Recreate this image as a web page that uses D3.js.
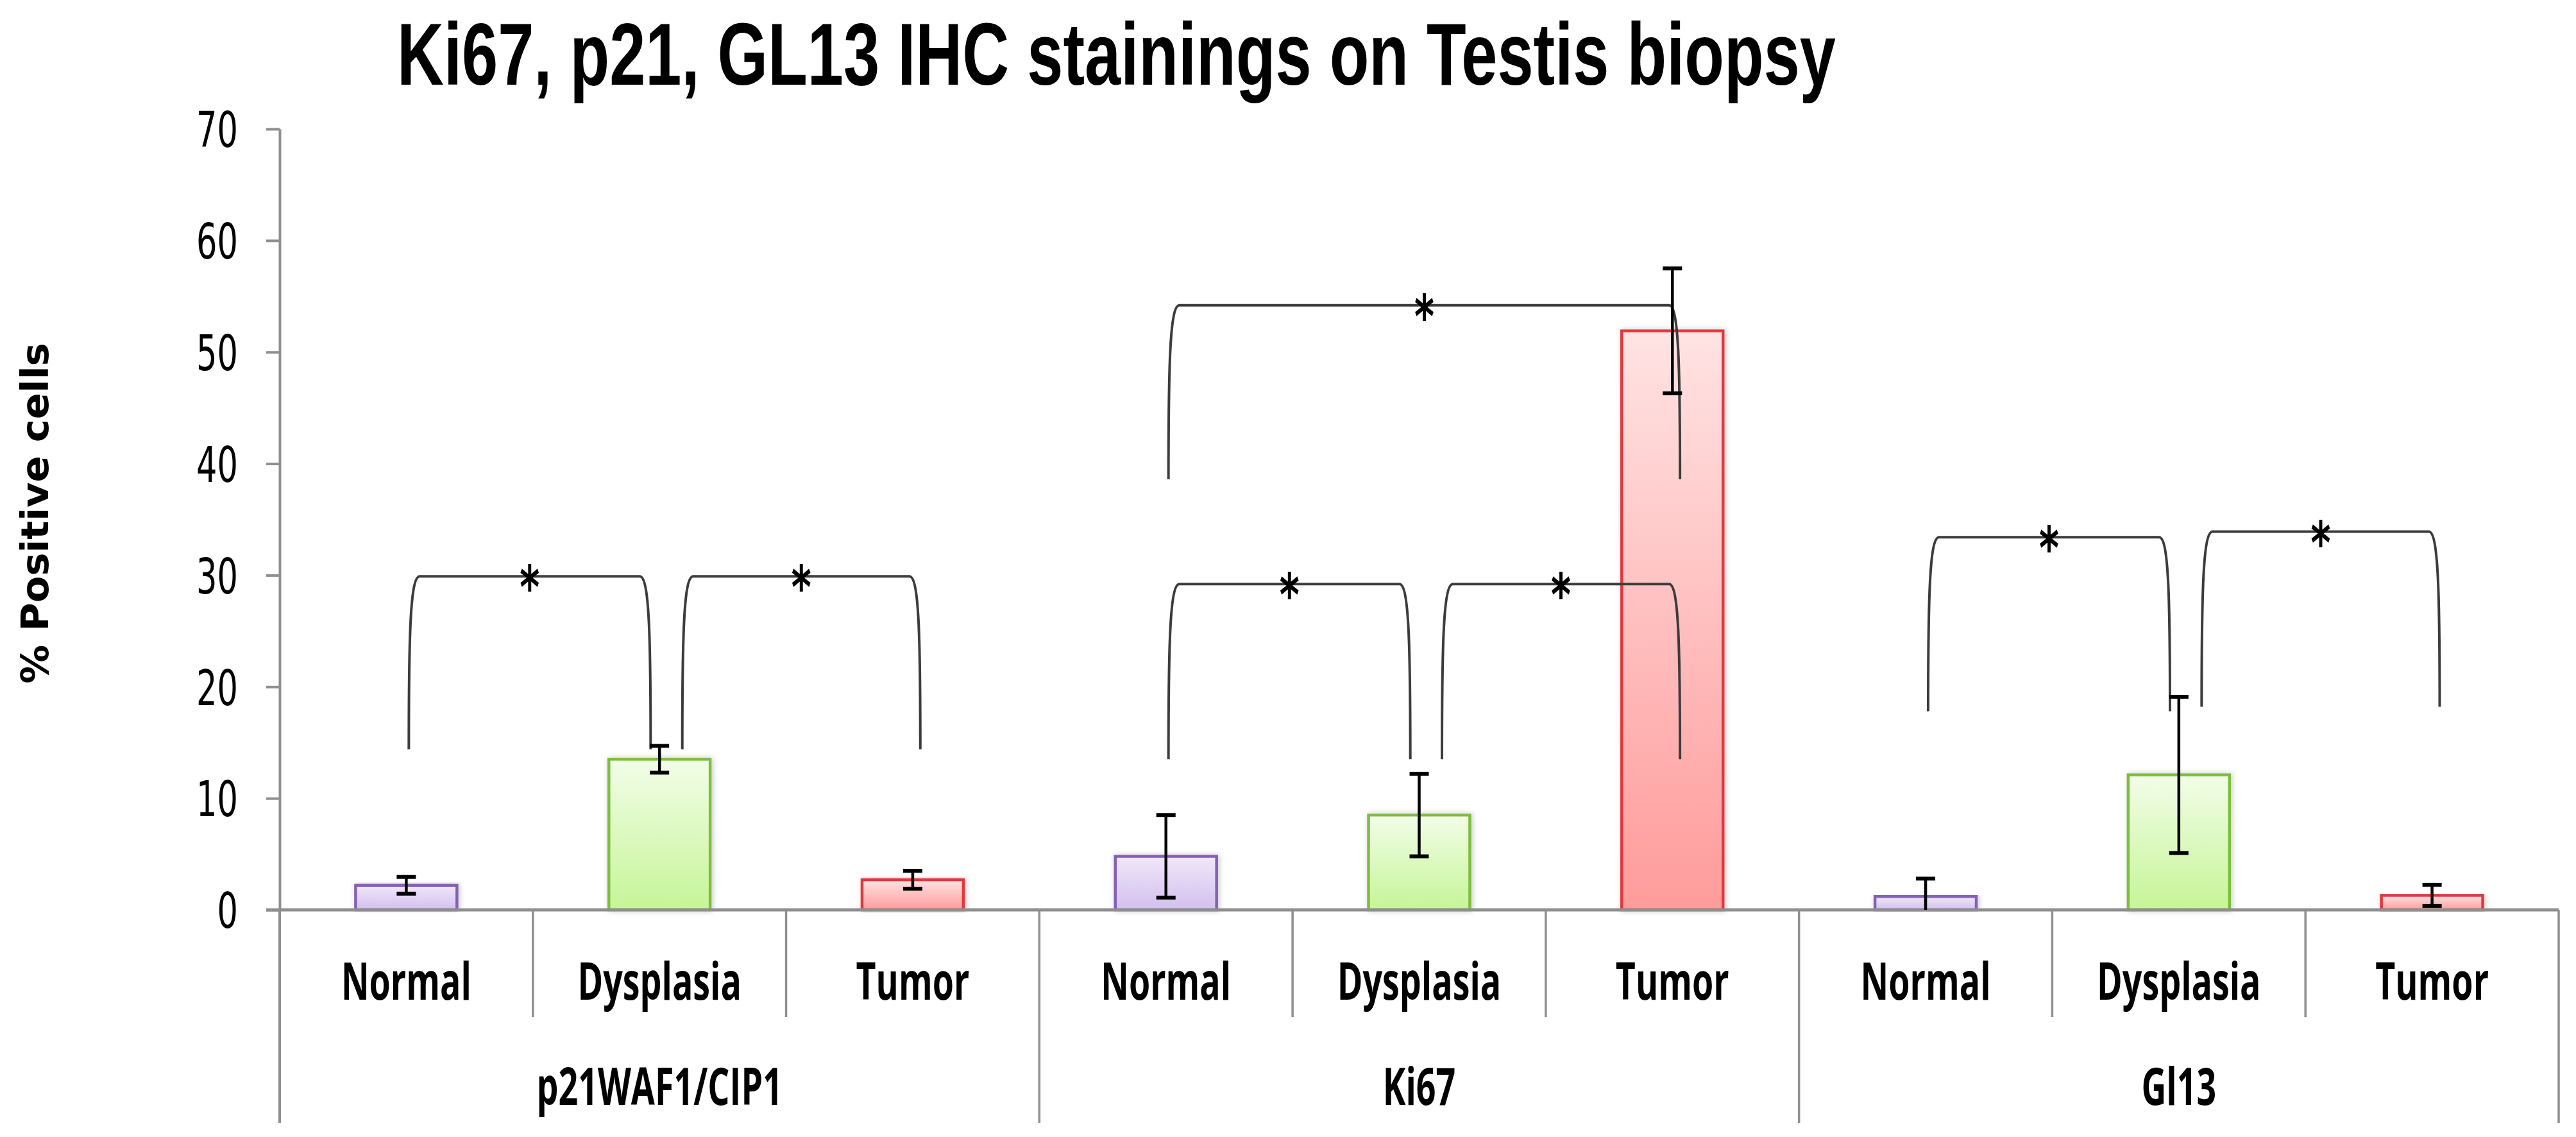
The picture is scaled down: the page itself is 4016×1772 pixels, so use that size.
<!DOCTYPE html>
<html>
<head>
<meta charset="utf-8">
<script src="https://cdn.jsdelivr.net/npm/d3@7"></script>
<style>
  body { margin: 0; background: #fff; }
</style>
</head>
<body>
<svg id="chart"></svg>
<script>
// data
const groups = ['p21WAF1/CIP1', 'Ki67', 'Gl13'];
const stages = ['Normal', 'Dysplasia', 'Tumor'];
const p21Mean = [2.2, 13.5, 2.7];
const p21Err = [0.75, 1.2, 0.8];
const ki67Mean = [4.8, 8.5, 51.9];
const ki67Err = [3.7, 3.7, 5.6];
const gl13Mean = [1.2, 12.1, 1.3];
const gl13Err = [1.6, 7.0, 0.95];
const yTicks = [0, 10, 20, 30, 40, 50, 60, 70];
// significance brackets: group, from, to, top value, end value
const brackets = [
	['p21WAF1/CIP1', 'Normal', 'Dysplasia', 29.9, 14.4],
	['p21WAF1/CIP1', 'Dysplasia', 'Tumor', 29.9, 14.4],
	['Ki67', 'Normal', 'Tumor', 54.2, 38.6],
	['Ki67', 'Normal', 'Dysplasia', 29.2, 13.5],
	['Ki67', 'Dysplasia', 'Tumor', 29.2, 13.5],
	['Gl13', 'Normal', 'Dysplasia', 33.4, 17.8],
	['Gl13', 'Dysplasia', 'Tumor', 33.9, 18.2]
];

const W = 4016, H = 1772;
const margin = { top: 201, left: 436, right: 27, bottom: 354 };

const svg = d3.select('#chart')
	.attr('width', W).attr('height', H)
	.attr('viewBox', `0 0 ${W} ${H}`);

// table built from the arrays
const meanByGroup = { 'p21WAF1/CIP1': p21Mean, 'Ki67': ki67Mean, 'Gl13': gl13Mean };
const errByGroup = { 'p21WAF1/CIP1': p21Err, 'Ki67': ki67Err, 'Gl13': gl13Err };
const rows = [];
groups.forEach(g => stages.forEach((s, i) => {
	rows.push({ group: g, stage: s, key: g + '|' + s, value: meanByGroup[g][i], err: errByGroup[g][i] });
}));

const x = d3.scaleBand().domain(rows.map(d => d.key)).range([margin.left, W - margin.right]);
const y = d3.scaleLinear().domain([0, 70]).range([H - margin.bottom, margin.top]);
const bw = x.bandwidth();
const barW = bw * 0.4;
const cx = k => x(k) + bw / 2;

// defs: gradients and shadow
const defs = svg.append('defs');
const palette = {
	Normal: { top: '#f0e8f9', bottom: '#d3bfee', stroke: '#8460b6' },
	Dysplasia: { top: '#f2fde8', bottom: '#c6f597', stroke: '#7bbe3c' },
	Tumor: { top: '#ffe3e3', bottom: '#ff9b9b', stroke: '#e0383d' }
};
stages.forEach(s => {
	const lg = defs.append('linearGradient').attr('id', 'grad-' + s)
		.attr('x1', 0).attr('y1', 0).attr('x2', 0).attr('y2', 1);
	lg.append('stop').attr('offset', '0%').attr('stop-color', palette[s].top);
	lg.append('stop').attr('offset', '100%').attr('stop-color', palette[s].bottom);
});
defs.append('filter').attr('id', 'shadow').attr('x', '-20%').attr('y', '-10%').attr('width', '140%').attr('height', '120%')
	.append('feDropShadow').attr('dx', 2).attr('dy', 0).attr('stdDeviation', 4)
	.attr('flood-color', '#000').attr('flood-opacity', 0.22);

// title
svg.append('text')
	.attr('x', 619).attr('y', 132)
	.attr('font-family', 'Liberation Sans, Arial, sans-serif').attr('font-weight', 700)
	.attr('font-size', 138)
	.attr('textLength', 2243).attr('lengthAdjust', 'spacingAndGlyphs')
	.text('Ki67, p21, GL13 IHC stainings on Testis biopsy');

// y axis label
svg.append('text')
	.attr('transform', `translate(75, 800) rotate(-90)`)
	.attr('text-anchor', 'middle')
	.attr('font-family', 'DejaVu Sans, sans-serif').attr('font-weight', 700)
	.attr('font-size', 58)
	.attr('textLength', 531).attr('lengthAdjust', 'spacingAndGlyphs')
	.text('% Positive cells');

// y axis
const yAxis = d3.axisLeft(y).tickValues(yTicks).tickSize(21).tickPadding(44).tickSizeOuter(0);
const yAxisG = svg.append('g').attr('transform', `translate(${margin.left}, 0)`).call(yAxis);
yAxisG.select('.domain').attr('stroke', '#8f8f8f').attr('stroke-width', 4);
yAxisG.selectAll('.tick line').attr('stroke', '#8f8f8f').attr('stroke-width', 4);
yAxisG.selectAll('.tick text')
	.attr('font-family', 'DejaVu Sans, sans-serif').attr('font-size', 77).attr('fill', '#000')
	.attr('dy', '0.36em')
	.attr('textLength', d => String(d).length * 32.5).attr('lengthAdjust', 'spacingAndGlyphs');

// category separators below the baseline
const y0 = y(0);
const sepG = svg.append('g').attr('stroke', '#8f8f8f').attr('stroke-width', 3.5);
rows.forEach((d, i) => {
	const bottom = i % 3 === 0 ? 1750 : 1585;
	sepG.append('line').attr('x1', x(d.key)).attr('x2', x(d.key)).attr('y1', y0).attr('y2', bottom);
});
sepG.append('line').attr('x1', W - margin.right).attr('x2', W - margin.right).attr('y1', y0).attr('y2', 1750);
sepG.append('line').attr('x1', margin.left).attr('x2', margin.left).attr('y1', y0).attr('y2', 1750).attr('stroke-width', 4);

// bars
svg.append('g').selectAll('rect')
	.data(rows).join('rect')
	.attr('x', d => cx(d.key) - barW / 2)
	.attr('y', d => y(d.value))
	.attr('width', barW)
	.attr('height', d => y0 - y(d.value))
	.attr('fill', d => `url(#grad-${d.stage})`)
	.attr('stroke', d => palette[d.stage].stroke)
	.attr('stroke-width', 4.5)
	.attr('filter', 'url(#shadow)');

// baseline
svg.append('line')
	.attr('x1', margin.left - 21).attr('x2', W - margin.right)
	.attr('y1', y0).attr('y2', y0)
	.attr('stroke', '#8f8f8f').attr('stroke-width', 5);

// brackets
const sharedRight = b => brackets.some(o => o !== b && o[0] === b[0] && o[1] === b[2]);
const sharedLeft = b => brackets.some(o => o !== b && o[0] === b[0] && o[2] === b[1]);
const brG = svg.append('g');
brackets.forEach(b => {
	const xl = cx(b[0] + '|' + b[1]) + (sharedLeft(b) ? 0.09 * bw : 0.01 * bw);
	const xr = cx(b[0] + '|' + b[2]) + (sharedRight(b) ? -0.035 * bw : 0.03 * bw);
	const yt = y(b[3]);
	const yb = y(b[4]);
	const h = yb - yt;
	const r = 17;
	const p = d3.path();
	p.moveTo(xl, yb);
	p.bezierCurveTo(xl, yt + h * 0.35, xl + 2, yt, xl + r, yt);
	p.lineTo(xr - r, yt);
	p.bezierCurveTo(xr - 2, yt, xr, yt + h * 0.35, xr, yb);
	brG.append('path').attr('d', p.toString())
		.attr('fill', 'none').attr('stroke', '#3c3c3c').attr('stroke-width', 4);
	brG.append('text')
		.attr('x', (xl + xr) / 2).attr('y', yt + 50)
		.attr('text-anchor', 'middle')
		.attr('font-family', 'DejaVu Sans, sans-serif').attr('font-weight', 700)
		.attr('font-size', 92)
		.attr('textLength', 31).attr('lengthAdjust', 'spacingAndGlyphs')
		.text('*');
});

// error bars
const errG = svg.append('g').attr('stroke', '#000');
const capW = 30;
rows.forEach(d => {
	const xc = cx(d.key);
	const hi = d.value + d.err;
	const lo = Math.max(0, d.value - d.err);
	errG.append('line').attr('x1', xc).attr('x2', xc).attr('y1', y(hi)).attr('y2', y(lo)).attr('stroke-width', 4.5);
	errG.append('line').attr('x1', xc - capW / 2).attr('x2', xc + capW / 2).attr('y1', y(hi)).attr('y2', y(hi)).attr('stroke-width', 6);
	if (d.value - d.err > 0) {
		errG.append('line').attr('x1', xc - capW / 2).attr('x2', xc + capW / 2).attr('y1', y(lo)).attr('y2', y(lo)).attr('stroke-width', 6);
	}
});

// category and group labels
const labG = svg.append('g')
	.attr('font-family', 'Open Sans, sans-serif').attr('font-weight', 700)
	.attr('font-size', 81).attr('text-anchor', 'middle');
const catText = labG.selectAll('.cat')
	.data(rows).join('text').attr('class', 'cat')
	.attr('x', d => cx(d.key)).attr('y', 1558)
	.text(d => d.stage);
const grpText = labG.selectAll('.grp')
	.data(groups).join('text').attr('class', 'grp')
	.attr('x', g => cx(g + '|Dysplasia')).attr('y', 1722)
	.text(g => g);

// squeeze the labels horizontally like the source picture
const k = 203 / catText.node().getComputedTextLength();
labG.selectAll('text').each(function () {
	const n = this.getComputedTextLength();
	d3.select(this).attr('textLength', n * k).attr('lengthAdjust', 'spacingAndGlyphs');
});
</script>
</body>
</html>
